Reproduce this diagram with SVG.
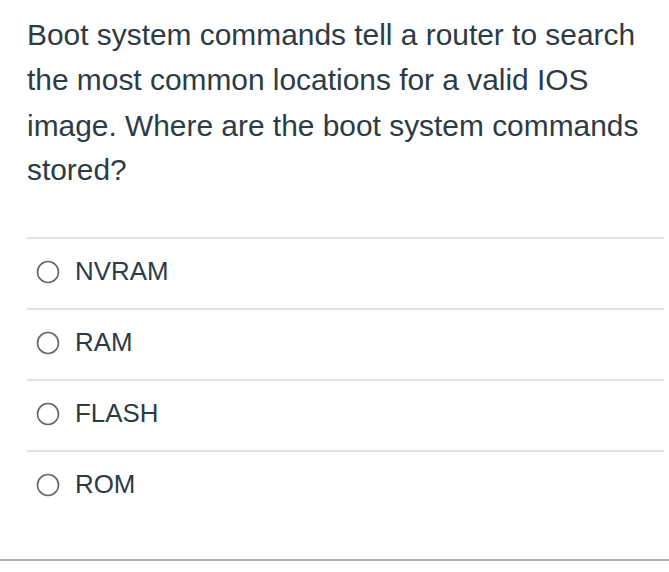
<svg xmlns="http://www.w3.org/2000/svg" width="669" height="572" viewBox="0 0 669 572">
<style>
text{font-family:"Liberation Sans",Arial,sans-serif;fill:#2d3b45}
.q{font-size:29.9px}
.o{font-size:25.9px}
.sep{stroke:#d9d9d9;stroke-width:1.5}
.r{fill:#fff;stroke:#666;stroke-width:1.6}
</style>
<rect width="669" height="572" fill="#fff"/>
<text class="q" x="27" y="45">Boot system commands tell a router to search</text>
<text class="q" x="27" y="90">the most common locations for a valid IOS</text>
<text class="q" x="27" y="136">image. Where are the boot system commands</text>
<text class="q" x="27" y="180">stored?</text>
<line class="sep" x1="27" y1="238" x2="664" y2="238"/>
<line class="sep" x1="27" y1="309" x2="664" y2="309"/>
<line class="sep" x1="27" y1="380" x2="664" y2="380"/>
<line class="sep" x1="27" y1="451" x2="664" y2="451"/>
<circle class="r" cx="48" cy="272" r="10.5"/>
<text class="o" x="75" y="280">NVRAM</text>
<circle class="r" cx="48" cy="343" r="10.5"/>
<text class="o" x="75" y="351">RAM</text>
<circle class="r" cx="48" cy="414" r="10.5"/>
<text class="o" x="75" y="422">FLASH</text>
<circle class="r" cx="48" cy="485" r="10.5"/>
<text class="o" x="75" y="493">ROM</text>
<line x1="0" y1="560" x2="669" y2="560" stroke="#999" stroke-width="1.5"/>
</svg>
